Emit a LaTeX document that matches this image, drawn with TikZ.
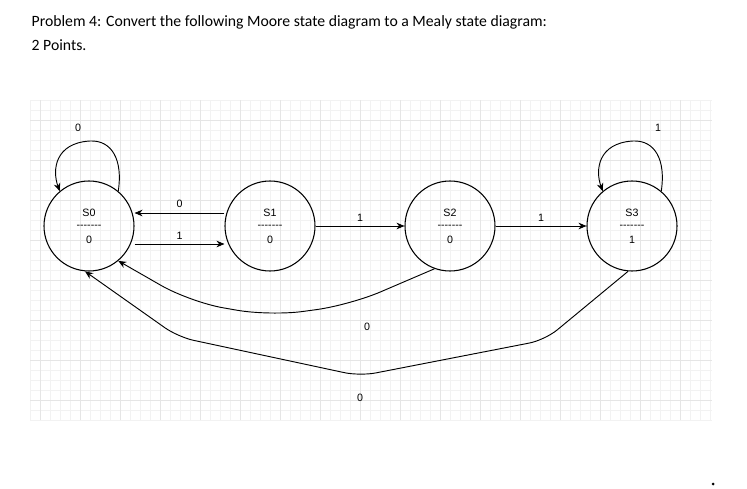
\documentclass[tikz,border=0pt]{standalone}
\usepackage{fontspec}
\setmainfont{Liberation Sans}
\newfontfamily\calib{Carlito}
\usetikzlibrary{arrows.meta}
\newcommand{\dashes}{{-}{-}{-}{-}{-}{-}{-}}
\begin{document}
\begin{tikzpicture}[x=0.75pt,y=-0.75pt,
  st/.style={circle,draw,line width=0.8pt,minimum size=67.5pt,inner sep=0pt,align=center,font=\fontsize{8}{10}\selectfont},
  tr/.style={draw,line width=0.7pt,-{Stealth[length=6pt,width=5pt]}},
  lab/.style={font=\fontsize{8}{9}\selectfont}]
\useasboundingbox (0,0) rectangle (747,489);
\fill[white] (0,0) rectangle (747,489);
\draw[black!5,step=7.5pt] (30,100) grid (712,420);
\draw[black!10,step=30pt] (30,100) grid (712,420);
\node[anchor=west,font=\calib\fontsize{11.8}{13}\selectfont] (t1) at (27,22) {Problem 4: Convert the following Moore state diagram to a Mealy state diagram:};
\node[anchor=west,font=\calib\fontsize{11.8}{13}\selectfont] (t2) at (27,45) {2 Points.};
\fill (713,484) circle (1.5);
\node[st] (s0) at (89,226) {S0\\[-1pt]\dashes\\[1pt]0};
\node[st] (s1) at (270,226) {S1\\[-1pt]\dashes\\[1pt]0};
\node[st] (s2) at (450,226) {S2\\[-1pt]\dashes\\[1pt]0};
\node[st] (s3) at (632,226) {S3\\[-1pt]\dashes\\[1pt]1};
\draw[tr] (s1.west |- 0,213) -- node[lab,above]{0} (s0.east |- 0,213);
\draw[tr] (s0.east |- 0,244) -- node[lab,above]{1} (s1.west |- 0,244);
\draw[tr] (s1) -- node[lab,above,pos=0.5]{1} (s2);
\draw[tr] (s2) -- node[lab,above]{1} (s3);
\draw[tr] (s0.50) .. controls (123,160) and (112,140) .. (90,141) .. controls (55,143) and (52,170) .. (s0.130);
\node[lab] (l0) at (78,128) {0};
\draw[tr] (s3.50) .. controls (666,160) and (655,140) .. (633,141) .. controls (598,143) and (595,170) .. (s3.130);
\node[lab] (l3) at (658,128) {1};
\draw[tr,rounded corners=25pt] (s2.250) -- (350,305) -- (270,316) -- (190,302) -- (s0.-50);
\draw[tr,rounded corners=12pt] (s3.-95) -- (545,340) -- (360,376) -- (178,337) -- (s0.-95);
\node[lab] (l4) at (367,327) {0};
\node[lab] (l5) at (360,398) {0};
\end{tikzpicture}
\end{document}
